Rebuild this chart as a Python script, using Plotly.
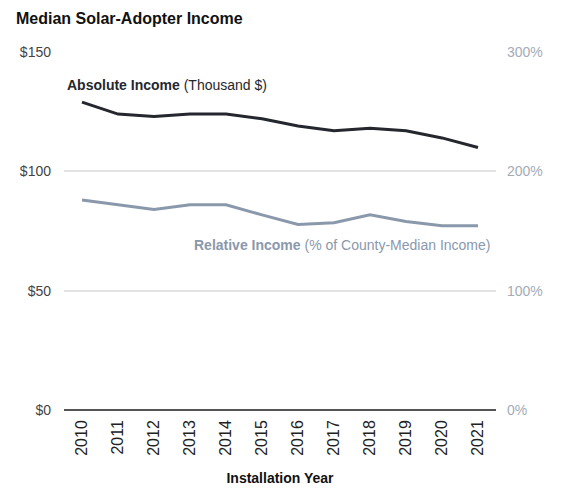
import plotly.graph_objects as go

# --- DATA ---
years = [str(y) for y in range(2010, 2022)]
absolute_income = [129, 124, 123, 124, 124, 122, 119, 117, 118, 117, 114, 110]  # thousand $
relative_income = [176, 172, 168, 172, 172, 163.5, 155.5, 157, 163.5, 158, 154.5, 154.5]  # % of county median

left_ticks = [0, 50, 100, 150]
left_labels = ["$0", "$50", "$100", "$150"]
right_ticks = [0, 100, 200, 300]
right_labels = ["0%", "100%", "200%", "300%"]

DARK = "#24272d"
SLATE = "#8a98ac"
FONT = "Liberation Sans, Arial, sans-serif"

fig = go.Figure()
fig.add_trace(go.Scatter(x=years, y=absolute_income, mode="lines",
                         line=dict(color=DARK, width=3), yaxis="y"))
fig.add_trace(go.Scatter(x=years, y=relative_income, mode="lines",
                         line=dict(color=SLATE, width=3), yaxis="y2"))

fig.update_layout(
    width=569, height=504,
    margin=dict(l=52, r=81, t=44, b=102),
    paper_bgcolor="white", plot_bgcolor="white",
    showlegend=False,
    font=dict(family=FONT, size=14, color="#444"),
    title=dict(text="<b>Median Solar-Adopter Income</b>", x=0.014, xanchor="left",
               y=0.98, yanchor="middle", font=dict(size=16, color="#111")),
    xaxis=dict(type="category", range=[-0.5, 11.5], tickangle=-90,
               showgrid=False, ticks="", tickfont=dict(size=16, color="#222"),
               ticklabelstandoff=6,
               title=dict(text="<b>Installation Year</b>", font=dict(size=14, color="#111"),
                          standoff=18),
               showline=False, zeroline=False),
    yaxis=dict(range=[0, 150], tickvals=left_ticks, ticktext=left_labels,
               showgrid=True, gridcolor="#e3e3e3", gridwidth=1.5,
               zeroline=True, zerolinecolor="#555", zerolinewidth=2,
               tickfont=dict(size=14, color="#444"), ticks="", ticklabelstandoff=12),
    yaxis2=dict(range=[0, 300], tickvals=right_ticks, ticktext=right_labels,
                overlaying="y", side="right", showgrid=False, zeroline=False,
                tickfont=dict(size=14, color="#a3abb9"), ticks="", ticklabelstandoff=10),
)

fig.add_annotation(x=-0.47, y=136, xref="x", yref="y", xanchor="left", yanchor="middle",
                   text="<b>Absolute Income</b> (Thousand $)", showarrow=False,
                   font=dict(size=14, color=DARK))
fig.add_annotation(x=11.4, y=138, xref="x", yref="y2", xanchor="right", yanchor="middle",
                   text="<b>Relative Income</b> (% of County-Median Income)", showarrow=False,
                   font=dict(size=14, color=SLATE))

fig.write_html("out.html")
